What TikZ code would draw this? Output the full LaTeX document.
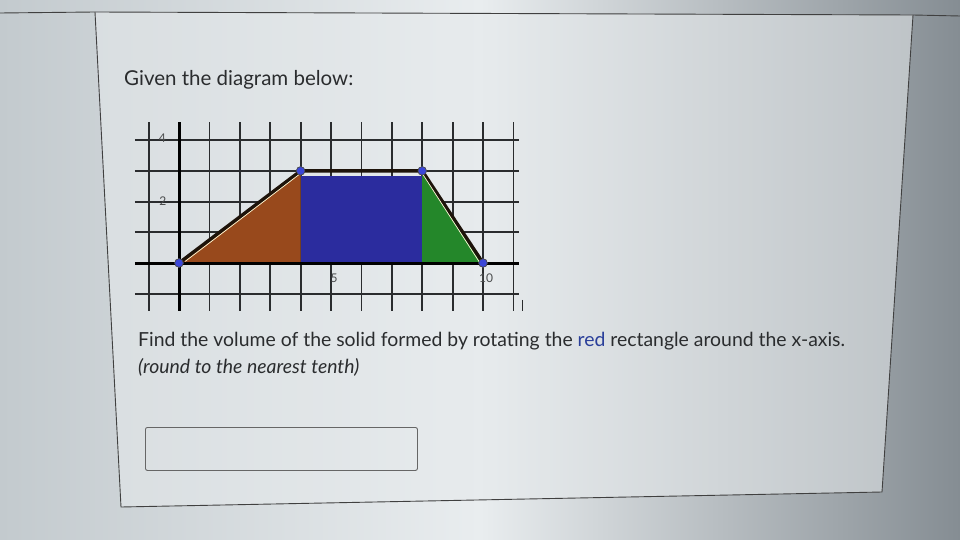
\documentclass[tikz,border=0pt]{standalone}
\usepackage{fontspec}
\setmainfont{Lato}
\usetikzlibrary{calc}
\definecolor{bgleft}{HTML}{C3CACE}
\definecolor{bgmid}{HTML}{E9EDEF}
\definecolor{bgright}{HTML}{858D93}
\definecolor{cardc}{HTML}{E6EAEC}
\definecolor{gridc}{HTML}{2A2C2E}
\definecolor{brownf}{HTML}{98491C}
\definecolor{bluef}{HTML}{2B2C9E}
\definecolor{greenf}{HTML}{24872A}
\definecolor{dotc}{HTML}{3A46D8}
\definecolor{textc}{HTML}{2A2C2E}
\definecolor{redword}{HTML}{2A3F9A}
\tikzset{
  gridline/.style={draw=gridc, line width=1.8pt},
  axisline/.style={draw=black, line width=3pt},
  outline/.style={draw=black!85!brown, line width=3.4pt, line join=round},
  innerline/.style={draw=white!85!yellow, line width=0.7pt, line join=round},
  vdot/.style={circle, fill=dotc, draw=black!70, line width=0.6pt, minimum size=8.5pt, inner sep=0pt},
  ticklab/.style={font=\fontsize{12}{14}\selectfont, text=gridc!85, inner sep=0pt},
  qtext/.style={font=\fontsize{19.4}{23}\selectfont, text=textc, anchor=base west, inner sep=0pt},
  cardline/.style={draw=black!75, line width=0.9pt}
}
\begin{document}
\begin{tikzpicture}[x=1pt,y=-1pt]
\useasboundingbox (0,0) rectangle (960,540);
% background
\shade[left color=bgleft, right color=bgright, middle color=bgmid] (0,0) rectangle (960,540);
% card
\coordinate (TL) at (95,12);
\coordinate (TR) at (913,15);
\coordinate (BR) at (882,492);
\coordinate (BL) at (121,507);
\fill[cardc, opacity=0.55] (TL) -- (TR) -- (BR) -- (BL) -- cycle;
\draw[cardline] (0,13) -- (TL) -- (TR) -- (960,16);
\draw[cardline] (TL) -- (BL) -- (BR) -- (TR);
% question text
\node[qtext, font=\fontsize{20.5}{24}\selectfont] (given) at (124,86) {Given the diagram below:};
\node[qtext] (find) at (138,346) {Find the volume of the solid formed by rotating the \textcolor{redword}{red} rectangle around the x-axis.};
\node[qtext, font=\fontsize{19.4}{23}\selectfont\itshape] (round) at (138,373) {(round to the nearest tenth)};
% answer box
\node[draw=black!60, line width=0.9pt, rounded corners=2pt, minimum width=272pt, minimum height=43pt, anchor=north west, inner sep=0pt] (answer) at (145,427) {};
% graph
\begin{scope}[shift={(179,263)}, x=30.4pt, y=30.7pt]
  \foreach \i in {-1,1,2,...,11} \draw[gridline] (\i,-1.55) -- (\i,4.6);
  \foreach \j in {-1,1,2,3,4} \draw[gridline] (-1.45,\j) -- (11.2,\j);
  \draw[axisline] (0,-1.55) -- (0,4.6);
  \draw[axisline] (-1.45,0) -- (11.2,0);
  \draw[gridline] (11.3,-1.2) -- (11.3,-1.55);
  \fill[brownf] (0.1,0.04) -- (4,2.95) -- (4,0.04) -- cycle;
  \fill[bluef] (4,0.04) rectangle (8,2.85);
  \fill[greenf] (8,0.04) -- (8,2.95) -- (9.93,0.04) -- cycle;
  \node[ticklab] (l4) at (-0.55,4.05) {4};
  \node[ticklab] (l2) at (-0.53,2.0) {2};
  \node[ticklab] (l5) at (5.1,-0.5) {5};
  \node[ticklab] (l10) at (10.1,-0.5) {10};
  \node[vdot] (A) at (0,0) {};
  \node[vdot] (B) at (4,3) {};
  \node[vdot] (C) at (8,3) {};
  \node[vdot] (D) at (10,0) {};
  \draw[outline] (A.center) -- (B.center) -- (C.center) -- (D.center);
  \draw[innerline] ($(A.center)+(0.2,0.05)$) -- ($(B.center)+(0,-0.08)$);
  \draw[innerline] ($(C.center)+(0,-0.08)$) -- ($(D.center)+(-0.12,0.03)$);
  \node[vdot] at (A) {};
  \node[vdot] at (B) {};
  \node[vdot] at (C) {};
  \node[vdot] at (D) {};
\end{scope}
\end{tikzpicture}
\end{document}
